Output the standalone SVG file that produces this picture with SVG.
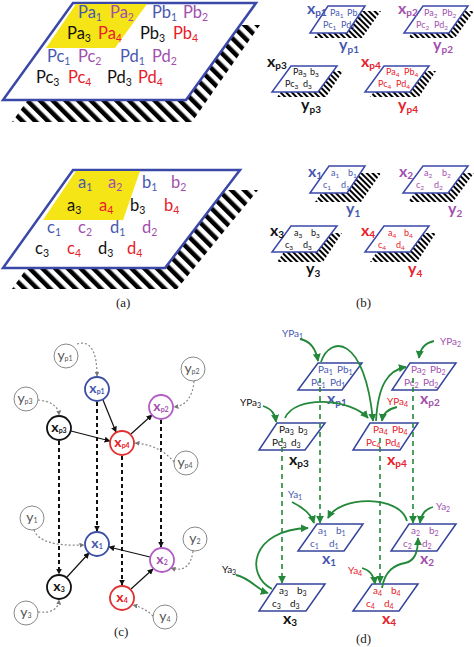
<svg xmlns="http://www.w3.org/2000/svg" width="474" height="647" viewBox="0 0 474 647">
<defs>
<pattern id="hA" width="9" height="9" patternUnits="userSpaceOnUse" patternTransform="rotate(-45)"><rect width="4.5" height="9" fill="#000"/></pattern>
<pattern id="hB" width="4" height="4" patternUnits="userSpaceOnUse" patternTransform="rotate(-45)"><rect width="2" height="4" fill="#000"/></pattern>
<marker id="ak" viewBox="0 0 10 10" refX="9" refY="5" markerWidth="6" markerHeight="6" markerUnits="userSpaceOnUse" orient="auto"><path d="M0,0 L10,5 L0,10 z" fill="#111"/></marker>
<marker id="agr" viewBox="0 0 10 10" refX="9" refY="5" markerWidth="5" markerHeight="5" markerUnits="userSpaceOnUse" orient="auto"><path d="M0,0 L10,5 L0,10 z" fill="#777"/></marker>
<marker id="ag" viewBox="0 0 10 10" refX="9" refY="5" markerWidth="8" markerHeight="8" markerUnits="userSpaceOnUse" orient="auto"><path d="M0,0 L10,5 L0,10 z" fill="#23883a"/></marker>
</defs>
<style>
text{font-family:Lato,"Open Sans","Noto Sans",sans-serif}
.A{font-size:16.5px}.sA{font-size:10.5px}
.B{font-size:9px}.sB{font-size:6.5px}
.L{font-size:16px;font-weight:bold}.sL{font-size:10px}
.D{font-size:10px}.sD{font-size:7px}
.Y{font-size:10px}.sY{font-size:7px}
.C{font-size:14px;font-weight:bold}.sC{font-size:7px}
.G{font-size:14px;fill:#555}
.cap{font-family:"Liberation Serif",serif;font-size:13px;fill:#222}
.bl{fill:#4858b0}.pu{fill:#a24fae}.rd{fill:#e8202a}.bk{fill:#111}
.boxA{fill:#fff;stroke:#3a48a8;stroke-width:2.5}
.boxB{fill:#fff;stroke:#3a48a8;stroke-width:1.5}
.boxD{fill:#fff;stroke:#34449c;stroke-width:1.5}
.shA{fill:url(#hA)}.shB{fill:url(#hB)}
.hl{fill:#f5e416}
.nx{fill:#fff;stroke-width:1.8}
.ny{fill:#fff;stroke:#888;stroke-width:1}
.sol{fill:none;stroke:#111;stroke-width:1.2;marker-end:url(#ak)}
.dot{fill:none;stroke:#888;stroke-width:1.2;stroke-dasharray:2,2;marker-end:url(#agr)}
.vd{fill:none;stroke:#111;stroke-width:2;stroke-dasharray:4,3;marker-end:url(#ak)}
.gd{fill:none;stroke:#23883a;stroke-width:1.6;stroke-dasharray:5,4;marker-end:url(#ag)}
.gc{fill:none;stroke:#23883a;stroke-width:1.8;marker-end:url(#ag)}
</style>

<!-- Panel (a) -->
<g id="a-top">
<polygon class="shA" points="81,25 260,25 192,122 12,122"/>
<polygon class="boxA" points="73,3 256,3 186,100 3,100"/>
<polygon class="hl" points="76,4 147,4 115,48 46,48"/>
<text x="78" y="18" class="A bl">Pa<tspan class="sA" dy="3">1</tspan></text>
<text x="110" y="18" class="A pu">Pa<tspan class="sA" dy="3">2</tspan></text>
<text x="152" y="18" class="A bl">Pb<tspan class="sA" dy="3">1</tspan></text>
<text x="183" y="18" class="A pu">Pb<tspan class="sA" dy="3">2</tspan></text>
<text x="67" y="39" class="A bk">Pa<tspan class="sA" dy="3">3</tspan></text>
<text x="98" y="39" class="A rd">Pa<tspan class="sA" dy="3">4</tspan></text>
<text x="140" y="39" class="A bk">Pb<tspan class="sA" dy="3">3</tspan></text>
<text x="173" y="39" class="A rd">Pb<tspan class="sA" dy="3">4</tspan></text>
<text x="47" y="62" class="A bl">Pc<tspan class="sA" dy="3">1</tspan></text>
<text x="78" y="62" class="A pu">Pc<tspan class="sA" dy="3">2</tspan></text>
<text x="120" y="62" class="A bl">Pd<tspan class="sA" dy="3">1</tspan></text>
<text x="152" y="62" class="A pu">Pd<tspan class="sA" dy="3">2</tspan></text>
<text x="36" y="83" class="A bk">Pc<tspan class="sA" dy="3">3</tspan></text>
<text x="68" y="83" class="A rd">Pc<tspan class="sA" dy="3">4</tspan></text>
<text x="107" y="83" class="A bk">Pd<tspan class="sA" dy="3">3</tspan></text>
<text x="138" y="83" class="A rd">Pd<tspan class="sA" dy="3">4</tspan></text>
</g>
<g id="a-bottom">
<polygon class="shA" points="83,190 258,190 177,289 12,289"/>
<polygon class="boxA" points="73,170 240,170 165,268 3,268"/>
<polygon class="hl" points="76,171 140,171 123,220 43,220"/>
<text x="78" y="188" class="A bl">a<tspan class="sA" dy="3">1</tspan></text>
<text x="108" y="188" class="A pu">a<tspan class="sA" dy="3">2</tspan></text>
<text x="142" y="188" class="A bl">b<tspan class="sA" dy="3">1</tspan></text>
<text x="171" y="188" class="A pu">b<tspan class="sA" dy="3">2</tspan></text>
<text x="67" y="211" class="A bk">a<tspan class="sA" dy="3">3</tspan></text>
<text x="99" y="211" class="A rd">a<tspan class="sA" dy="3">4</tspan></text>
<text x="130" y="211" class="A bk">b<tspan class="sA" dy="3">3</tspan></text>
<text x="164" y="211" class="A rd">b<tspan class="sA" dy="3">4</tspan></text>
<text x="47" y="233" class="A bl">c<tspan class="sA" dy="3">1</tspan></text>
<text x="78" y="233" class="A pu">c<tspan class="sA" dy="3">2</tspan></text>
<text x="110" y="233" class="A bl">d<tspan class="sA" dy="3">1</tspan></text>
<text x="142" y="233" class="A pu">d<tspan class="sA" dy="3">2</tspan></text>
<text x="35" y="254" class="A bk">c<tspan class="sA" dy="3">3</tspan></text>
<text x="67" y="254" class="A rd">c<tspan class="sA" dy="3">4</tspan></text>
<text x="98" y="254" class="A bk">d<tspan class="sA" dy="3">3</tspan></text>
<text x="127" y="254" class="A rd">d<tspan class="sA" dy="3">4</tspan></text>
</g>
<text x="116" y="307" class="cap">(a)</text>

<!-- Panel (b) -->
<g id="b-xp1">
<polygon class="shB" points="334,11 381,11 362,38 314,38"/>
<polygon class="boxB" points="328,6 365,6 347,33 310,33"/>
<text x="307" y="14" class="L bl">x<tspan class="sL" dy="2">p1</tspan></text>
<text x="330" y="16" class="B bl">Pa<tspan class="sB" dy="1.5">1</tspan></text>
<text x="347" y="16" class="B bl">Pb<tspan class="sB" dy="1.5">1</tspan></text>
<text x="323" y="28" class="B bl">Pc<tspan class="sB" dy="1.5">1</tspan></text>
<text x="341" y="28" class="B bl">Pd<tspan class="sB" dy="1.5">1</tspan></text>
<text x="339" y="50" class="L bl">y<tspan class="sL" dy="3">p1</tspan></text>
</g>
<g id="b-xp2">
<polygon class="shB" points="429,11 474,11 455,38 408,38"/>
<polygon class="boxB" points="423,6 468,6 449,33 404,33"/>
<text x="398" y="14" class="L pu">x<tspan class="sL" dy="2">p2</tspan></text>
<text x="424" y="16" class="B pu">Pa<tspan class="sB" dy="1.5">2</tspan></text>
<text x="442" y="16" class="B pu">Pb<tspan class="sB" dy="1.5">2</tspan></text>
<text x="416" y="28" class="B pu">Pc<tspan class="sB" dy="1.5">2</tspan></text>
<text x="434" y="28" class="B pu">Pd<tspan class="sB" dy="1.5">2</tspan></text>
<text x="433" y="50" class="L pu">y<tspan class="sL" dy="3">p2</tspan></text>
</g>
<g id="b-xp3">
<polygon class="shB" points="297,71 343,71 326,97 277,97"/>
<polygon class="boxB" points="291,66 337,66 318,92 272,92"/>
<text x="267" y="67" class="L bk">x<tspan class="sL" dy="2">p3</tspan></text>
<text x="293" y="75" class="B bk">Pa<tspan class="sB" dy="1.5">3</tspan></text>
<text x="310" y="75" class="B bk">b<tspan class="sB" dy="1.5">3</tspan></text>
<text x="285" y="87" class="B bk">Pc<tspan class="sB" dy="1.5">3</tspan></text>
<text x="303" y="87" class="B bk">d<tspan class="sB" dy="1.5">3</tspan></text>
<text x="301" y="110" class="L bk">y<tspan class="sL" dy="3">p3</tspan></text>
</g>
<g id="b-xp4">
<polygon class="shB" points="390,71 436,71 419,97 370,97"/>
<polygon class="boxB" points="384,66 429,66 410,92 365,92"/>
<text x="361" y="67" class="L rd">x<tspan class="sL" dy="2">p4</tspan></text>
<text x="386" y="75" class="B rd">Pa<tspan class="sB" dy="1.5">4</tspan></text>
<text x="404" y="75" class="B rd">Pb<tspan class="sB" dy="1.5">4</tspan></text>
<text x="378" y="87" class="B rd">Pc<tspan class="sB" dy="1.5">4</tspan></text>
<text x="396" y="87" class="B rd">Pd<tspan class="sB" dy="1.5">4</tspan></text>
<text x="398" y="110" class="L rd">y<tspan class="sL" dy="3">p4</tspan></text>
</g>
<g id="b-x1">
<polygon class="shB" points="335,173 381,173 361,202 315,202"/>
<polygon class="boxB" points="329,166 365,166 347,193 310,193"/>
<text x="308" y="177" class="L bl">x<tspan class="sL" dy="2">1</tspan></text>
<text x="331" y="176" class="B bl">a<tspan class="sB" dy="1.5">1</tspan></text>
<text x="348" y="176" class="B bl">b<tspan class="sB" dy="1.5">1</tspan></text>
<text x="323" y="188" class="B bl">c<tspan class="sB" dy="1.5">1</tspan></text>
<text x="341" y="188" class="B bl">d<tspan class="sB" dy="1.5">1</tspan></text>
<text x="346" y="214" class="L bl">y<tspan class="sL" dy="3">1</tspan></text>
</g>
<g id="b-x2">
<polygon class="shB" points="429,173 474,173 453,202 408,202"/>
<polygon class="boxB" points="423,166 468,166 448,193 403,193"/>
<text x="399" y="177" class="L pu">x<tspan class="sL" dy="2">2</tspan></text>
<text x="424" y="176" class="B pu">a<tspan class="sB" dy="1.5">2</tspan></text>
<text x="442" y="176" class="B pu">b<tspan class="sB" dy="1.5">2</tspan></text>
<text x="416" y="188" class="B pu">c<tspan class="sB" dy="1.5">2</tspan></text>
<text x="434" y="188" class="B pu">d<tspan class="sB" dy="1.5">2</tspan></text>
<text x="448" y="214" class="L pu">y<tspan class="sL" dy="3">2</tspan></text>
</g>
<g id="b-x3">
<polygon class="shB" points="297,233 342,233 323,262 277,262"/>
<polygon class="boxB" points="291,226 337,226 317,252 272,252"/>
<text x="270" y="236" class="L bk">x<tspan class="sL" dy="2">3</tspan></text>
<text x="294" y="236" class="B bk">a<tspan class="sB" dy="1.5">3</tspan></text>
<text x="311" y="236" class="B bk">b<tspan class="sB" dy="1.5">3</tspan></text>
<text x="285" y="248" class="B bk">c<tspan class="sB" dy="1.5">3</tspan></text>
<text x="303" y="248" class="B bk">d<tspan class="sB" dy="1.5">3</tspan></text>
<text x="306" y="274" class="L bk">y<tspan class="sL" dy="3">3</tspan></text>
</g>
<g id="b-x4">
<polygon class="shB" points="390,233 436,233 417,262 370,262"/>
<polygon class="boxB" points="384,226 429,226 410,252 365,252"/>
<text x="361" y="236" class="L rd">x<tspan class="sL" dy="2">4</tspan></text>
<text x="388" y="236" class="B rd">a<tspan class="sB" dy="1.5">4</tspan></text>
<text x="404" y="236" class="B rd">b<tspan class="sB" dy="1.5">4</tspan></text>
<text x="378" y="248" class="B rd">c<tspan class="sB" dy="1.5">4</tspan></text>
<text x="396" y="248" class="B rd">d<tspan class="sB" dy="1.5">4</tspan></text>
<text x="408" y="274" class="L rd">y<tspan class="sL" dy="3">4</tspan></text>
</g>
<text x="356" y="307" class="cap">(b)</text>

<!-- Panel (c) connectors -->
<g id="c-connectors">
<path class="vd" d="M59,441 L59,574"/>
<path class="vd" d="M97,402 L97,531"/>
<path class="vd" d="M122,456 L122,585"/>
<path class="vd" d="M161,420 L161,547"/>
<path class="sol" d="M103,400 L116,432"/>
<path class="sol" d="M71,431 L110,441"/>
<path class="sol" d="M131,434 L152,415"/>
<path class="sol" d="M150,557 L109,547"/>
<path class="sol" d="M67,577 L89,553"/>
<path class="sol" d="M131,589 L153,569"/>
<path class="dot" d="M77,344 Q97,338 97,376"/>
<path class="dot" d="M194,381 Q192,405 174,407"/>
<path class="dot" d="M38,400 Q58,402 59,415"/>
<path class="dot" d="M174,462 Q160,445 135,443"/>
<path class="dot" d="M34,530 Q40,547 84,545"/>
<path class="dot" d="M193,551 Q190,574 171,568"/>
<path class="dot" d="M38,612 Q58,614 59,600"/>
<path class="dot" d="M153,616 Q145,608 133,605"/>
</g>
<!-- Panel (c) nodes -->
<g id="c-yp1"><circle class="ny" cx="66" cy="356" r="12"/><text x="65" y="360" text-anchor="middle" class="G">y<tspan class="sC" dy="1">p1</tspan></text></g>
<g id="c-xp1"><circle class="nx" cx="97" cy="389" r="12" stroke="#3b4ea3"/><text x="97" y="393" text-anchor="middle" class="C bl">x<tspan class="sC" dy="1">p1</tspan></text></g>
<g id="c-yp2"><circle class="ny" cx="193" cy="369" r="12"/><text x="192" y="373" text-anchor="middle" class="G">y<tspan class="sC" dy="1">p2</tspan></text></g>
<g id="c-xp2"><circle class="nx" cx="161" cy="407" r="12" stroke="#b35cc4"/><text x="161" y="411" text-anchor="middle" class="C pu">x<tspan class="sC" dy="1">p2</tspan></text></g>
<g id="c-yp3"><circle class="ny" cx="26" cy="399" r="12"/><text x="25" y="403" text-anchor="middle" class="G">y<tspan class="sC" dy="1">p3</tspan></text></g>
<g id="c-xp3"><circle class="nx" cx="59" cy="428" r="12" stroke="#111"/><text x="59" y="432" text-anchor="middle" class="C bk">x<tspan class="sC" dy="1">p3</tspan></text></g>
<g id="c-xp4"><circle class="nx" cx="122" cy="443" r="12" stroke="#e03030"/><text x="122" y="447" text-anchor="middle" class="C rd">x<tspan class="sC" dy="1">p4</tspan></text></g>
<g id="c-yp4"><circle class="ny" cx="186" cy="463" r="12"/><text x="185" y="467" text-anchor="middle" class="G">y<tspan class="sC" dy="1">p4</tspan></text></g>
<g id="c-y1"><circle class="ny" cx="32" cy="518" r="12"/><text x="32" y="522" text-anchor="middle" class="G">y<tspan class="sC" dy="1">1</tspan></text></g>
<g id="c-x1"><circle class="nx" cx="97" cy="544" r="12" stroke="#3b4ea3"/><text x="97" y="548" text-anchor="middle" class="C bl">x<tspan class="sC" dy="1">1</tspan></text></g>
<g id="c-y2"><circle class="ny" cx="195" cy="539" r="12"/><text x="195" y="543" text-anchor="middle" class="G">y<tspan class="sC" dy="1">2</tspan></text></g>
<g id="c-x2"><circle class="nx" cx="162" cy="560" r="12" stroke="#b35cc4"/><text x="162" y="564" text-anchor="middle" class="C pu">x<tspan class="sC" dy="1">2</tspan></text></g>
<g id="c-x3"><circle class="nx" cx="59" cy="587" r="12" stroke="#111"/><text x="59" y="591" text-anchor="middle" class="C bk">x<tspan class="sC" dy="1">3</tspan></text></g>
<g id="c-x4"><circle class="nx" cx="122" cy="598" r="12" stroke="#e03030"/><text x="122" y="602" text-anchor="middle" class="C rd">x<tspan class="sC" dy="1">4</tspan></text></g>
<g id="c-y3"><circle class="ny" cx="26" cy="613" r="12"/><text x="26" y="617" text-anchor="middle" class="G">y<tspan class="sC" dy="1">3</tspan></text></g>
<g id="c-y4"><circle class="ny" cx="165" cy="617" r="12"/><text x="165" y="621" text-anchor="middle" class="G">y<tspan class="sC" dy="1">4</tspan></text></g>
<text x="114" y="636" class="cap">(c)</text>

<!-- Panel (d) nodes -->
<g id="d-xp1">
<polygon class="boxD" points="318,363 362,363 342,390 298,390"/>
<text x="318" y="373" class="D bl">Pa<tspan class="sD" dy="1.5">1</tspan></text>
<text x="337" y="373" class="D bl">Pb<tspan class="sD" dy="1.5">1</tspan></text>
<text x="311" y="386" class="D bl">Pc<tspan class="sD" dy="1.5">1</tspan></text>
<text x="330" y="386" class="D bl">Pd<tspan class="sD" dy="1.5">1</tspan></text>
<text x="327" y="404" class="L bl">x<tspan class="sL" dy="2">p1</tspan></text>
</g>
<g id="d-xp2">
<polygon class="boxD" points="410,363 456,363 437,390 392,390"/>
<text x="411" y="373" class="D pu">Pa<tspan class="sD" dy="1.5">2</tspan></text>
<text x="430" y="373" class="D pu">Pb<tspan class="sD" dy="1.5">2</tspan></text>
<text x="404" y="386" class="D pu">Pc<tspan class="sD" dy="1.5">2</tspan></text>
<text x="423" y="386" class="D pu">Pd<tspan class="sD" dy="1.5">2</tspan></text>
<text x="420" y="404" class="L pu">x<tspan class="sL" dy="2">p2</tspan></text>
</g>
<g id="d-xp3">
<polygon class="boxD" points="277,423 325,423 305,450 259,450"/>
<text x="279" y="433" class="D bk">Pa<tspan class="sD" dy="1.5">3</tspan></text>
<text x="298" y="433" class="D bk">b<tspan class="sD" dy="1.5">3</tspan></text>
<text x="272" y="446" class="D bk">Pc<tspan class="sD" dy="1.5">3</tspan></text>
<text x="291" y="446" class="D bk">d<tspan class="sD" dy="1.5">3</tspan></text>
<text x="289" y="465" class="L bk">x<tspan class="sL" dy="2">p3</tspan></text>
</g>
<g id="d-xp4">
<polygon class="boxD" points="370,423 418,423 400,450 353,450"/>
<text x="373" y="433" class="D rd">Pa<tspan class="sD" dy="1.5">4</tspan></text>
<text x="392" y="433" class="D rd">Pb<tspan class="sD" dy="1.5">4</tspan></text>
<text x="366" y="446" class="D rd">Pc<tspan class="sD" dy="1.5">4</tspan></text>
<text x="385" y="446" class="D rd">Pd<tspan class="sD" dy="1.5">4</tspan></text>
<text x="387" y="465" class="L rd">x<tspan class="sL" dy="2">p4</tspan></text>
</g>
<g id="d-x1">
<polygon class="boxD" points="317,524 363,524 344,551 298,551"/>
<text x="318" y="534" class="D bl">a<tspan class="sD" dy="1.5">1</tspan></text>
<text x="336" y="534" class="D bl">b<tspan class="sD" dy="1.5">1</tspan></text>
<text x="310" y="547" class="D bl">c<tspan class="sD" dy="1.5">1</tspan></text>
<text x="329" y="547" class="D bl">d<tspan class="sD" dy="1.5">1</tspan></text>
<text x="322" y="564" class="L bl">x<tspan class="sL" dy="2">1</tspan></text>
</g>
<g id="d-x2">
<polygon class="boxD" points="409,524 456,524 437,551 391,551"/>
<text x="411" y="534" class="D pu">a<tspan class="sD" dy="1.5">2</tspan></text>
<text x="429" y="534" class="D pu">b<tspan class="sD" dy="1.5">2</tspan></text>
<text x="403" y="547" class="D pu">c<tspan class="sD" dy="1.5">2</tspan></text>
<text x="422" y="547" class="D pu">d<tspan class="sD" dy="1.5">2</tspan></text>
<text x="420" y="564" class="L pu">x<tspan class="sL" dy="2">2</tspan></text>
</g>
<g id="d-x3">
<polygon class="boxD" points="277,584 325,584 306,611 259,611"/>
<text x="279" y="594" class="D bk">a<tspan class="sD" dy="1.5">3</tspan></text>
<text x="297" y="594" class="D bk">b<tspan class="sD" dy="1.5">3</tspan></text>
<text x="272" y="607" class="D bk">c<tspan class="sD" dy="1.5">3</tspan></text>
<text x="290" y="607" class="D bk">d<tspan class="sD" dy="1.5">3</tspan></text>
<text x="283" y="624" class="L bk">x<tspan class="sL" dy="2">3</tspan></text>
</g>
<g id="d-x4">
<polygon class="boxD" points="372,584 418,584 399,611 353,611"/>
<text x="373" y="594" class="D rd">a<tspan class="sD" dy="1.5">4</tspan></text>
<text x="391" y="594" class="D rd">b<tspan class="sD" dy="1.5">4</tspan></text>
<text x="366" y="607" class="D rd">c<tspan class="sD" dy="1.5">4</tspan></text>
<text x="384" y="607" class="D rd">d<tspan class="sD" dy="1.5">4</tspan></text>
<text x="382" y="624" class="L rd">x<tspan class="sL" dy="2">4</tspan></text>
</g>
<g id="d-labels">
<text x="282" y="337" class="Y bl">YPa<tspan class="sY" dy="2">1</tspan></text>
<text x="440" y="345" class="Y pu">YPa<tspan class="sY" dy="2">2</tspan></text>
<text x="240" y="406" class="Y bk">YPa<tspan class="sY" dy="2">3</tspan></text>
<text x="387" y="405" class="Y rd">YPa<tspan class="sY" dy="2">4</tspan></text>
<text x="288" y="498" class="Y bl">Ya<tspan class="sY" dy="2">1</tspan></text>
<text x="436" y="510" class="Y pu">Ya<tspan class="sY" dy="2">2</tspan></text>
<text x="222" y="573" class="Y bk">Ya<tspan class="sY" dy="2">3</tspan></text>
<text x="348" y="574" class="Y rd">Ya<tspan class="sY" dy="2">4</tspan></text>
</g>
<!-- Panel (d) connectors -->
<g id="d-connectors">
<path class="gd" d="M320,378 L320,523"/>
<path class="gd" d="M413,378 L413,523"/>
<path class="gd" d="M282,438 L282,583"/>
<path class="gd" d="M380,438 L380,583"/>
<path class="gc" d="M300,339 C310,341 316,349 318,361"/>
<path class="gc" d="M321,362 C330,335 365,335 373,421"/>
<path class="gc" d="M434,341 C425,343 420,349 419,358"/>
<path class="gc" d="M376,421 C378,385 388,370 406,367"/>
<path class="gc" d="M397,407 C388,409 383,413 382,421"/>
<path class="gc" d="M263,406 C272,409 275,414 276,422"/>
<path class="gc" d="M285,418 C295,395 350,398 368,418"/>
<path class="gc" d="M292,502 C302,507 311,513 314,523"/>
<path class="gc" d="M433,507 C425,509 421,515 420,523"/>
<path class="gc" d="M236,575 C250,578 258,590 268,593"/>
<path class="gc" d="M272,589 C245,575 250,530 308,528"/>
<path class="gc" d="M407,521 C400,495 340,495 328,518"/>
<path class="gc" d="M362,568 C370,570 374,576 375,584"/>
<path class="gc" d="M382,588 C385,570 395,565 405,563 C415,561 418,552 418,538"/>
</g>
<text x="356" y="643" class="cap">(d)</text>
</svg>
